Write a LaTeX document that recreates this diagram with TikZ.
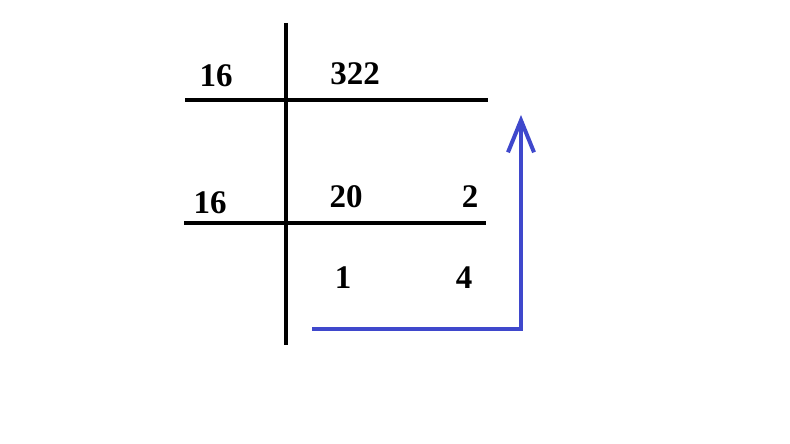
\documentclass[tikz,border=0pt]{standalone}
\usepackage{fontspec}
\setmainfont{Liberation Serif}
\usetikzlibrary{arrows.meta,positioning}
\definecolor{aBlue}{HTML}{3F48CC}
\tikzset{ln/.style={draw, line width=3.5pt, black}}
\tikzset{bl/.style={draw, line width=4.5pt, aBlue, line join=miter,
  -{Straight Barb[length=32pt,width=26pt,line width=4pt]}}}
\tikzset{dg/.style={font=\fontsize{33}{33}\selectfont\bfseries, inner sep=0pt}}

\begin{document}
\begin{tikzpicture}[x=1pt,y=1pt]
        \useasboundingbox (0,0) rectangle (790,444);
        %% division frame
        \coordinate (vt) at (286,421);
        \coordinate (vb) at (286,99);
        \coordinate (h1l) at (185,344);
        \coordinate (h1r) at (488,344);
        \coordinate (h2l) at (184,221);
        \coordinate (h2r) at (486,221);
        \draw [ln] (vt) to (vb);
        \draw [ln] (h1l) to (h1r);
        \draw [ln] (h2l) to (h2r);
        %% numbers
        \node (d1) at (216,368) [dg] {16};
        \node (n1) at (355,370) [dg] {322};
        \node (d2) at (210,241) [dg] {16};
        \node (q1) at (346,247) [dg] {20};
        \node (r1) at (470,247) [dg] {2};
        \node (q2) at (343,166) [dg] {1};
        \node (r2) at (464,166) [dg] {4};
        %% read-off arrow
        \coordinate (as) at (312,115);
        \coordinate (ac) at (521,115);
        \coordinate (ae) at (521,329);
        \draw [bl] (as) -- (ac) -- (ae);
\end{tikzpicture}
\end{document}
